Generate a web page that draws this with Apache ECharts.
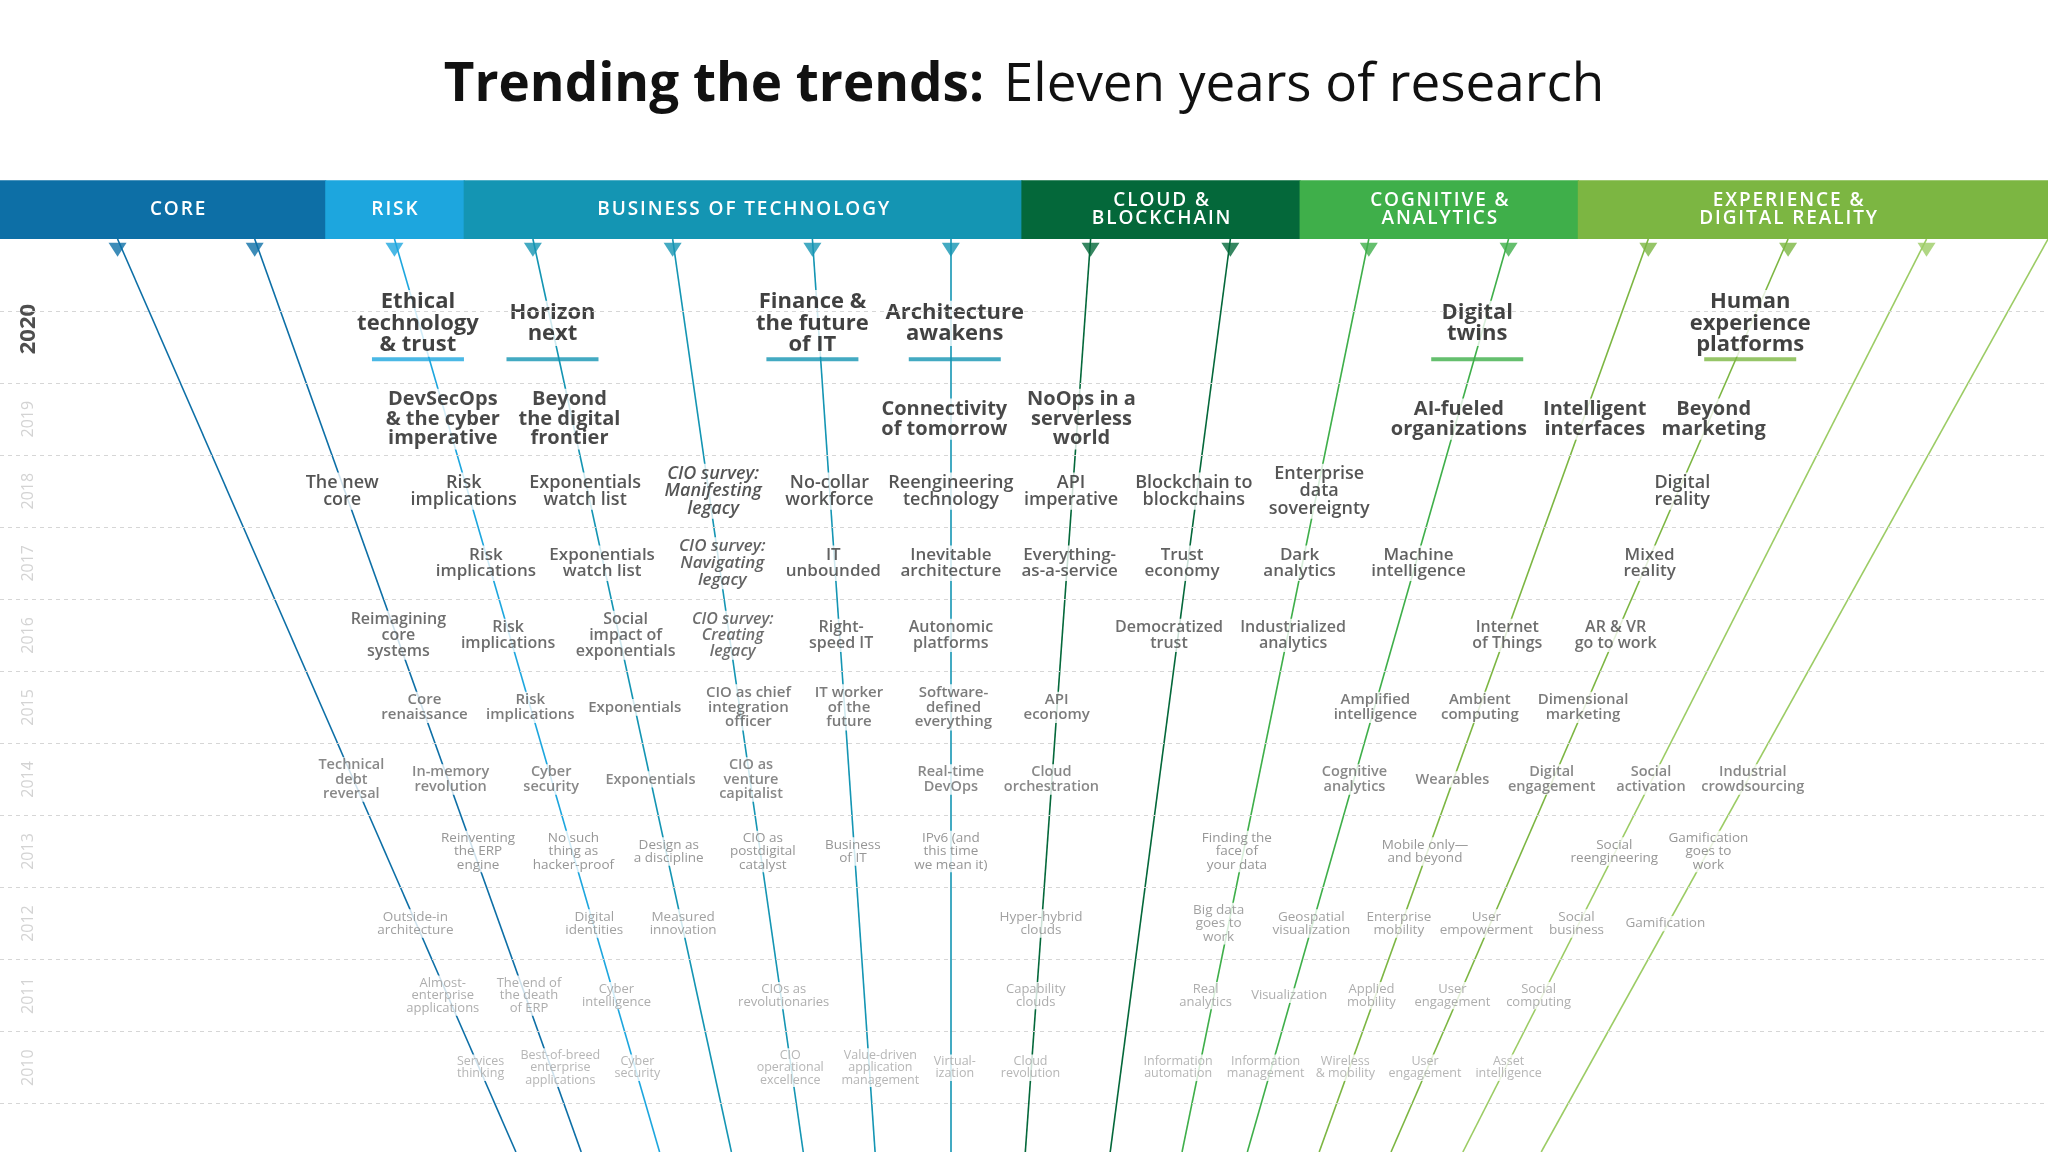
<!DOCTYPE html>
<html><head><meta charset="utf-8">
<script src="https://cdn.jsdelivr.net/npm/echarts@6/dist/echarts.min.js"></script>
<style>html,body{margin:0;padding:0;background:#fff}#chart{width:2048px;height:1152px}</style>
</head><body><div id="chart"></div>
<script>
var chart = echarts.init(document.getElementById('chart'));
var S = 2048 / 1568; // reference measured at 1568 wide

// banner groups: name, start x, end x, colour
var bandNames = ['CORE', 'RISK', 'BUSINESS OF TECHNOLOGY', 'CLOUD &\nBLOCKCHAIN', 'COGNITIVE &\nANALYTICS', 'EXPERIENCE &\nDIGITAL REALITY'];
var bandStart = [0, 249, 355, 782, 995, 1208];
var bandEnd = [249, 355, 782, 995, 1208, 1568];
var bandColor = ['#0d6fa6', '#1da6de', '#1495b3', '#04683a', '#3faf4a', '#7cb642'];
var bandTextX = [136, 302, 569, 889, 1102, 1369];

// stream lines: top x (banner), bottom x (page foot), colour
var lineTop = [90, 195, 302, 408, 515, 622, 728, 835, 942, 1048, 1155, 1262, 1369, 1475, 1568];
var lineBottom = [395, 445, 505, 560, 615, 670, 728, 785, 850, 905, 955, 1010, 1065, 1120, 1180];
var lineColor = ['#0d6fa6', '#0d6fa6', '#1da6de', '#1495b3', '#1495b3', '#1495b3', '#1495b3', '#04683a', '#04683a', '#3faf4a', '#3faf4a', '#7cb642', '#7cb642', '#9ccc65', '#9ccc65'];

var years = [2020, 2019, 2018, 2017, 2016, 2015, 2014, 2013, 2012, 2011, 2010];
var separators = [2009.5, 2010.5, 2011.5, 2012.5, 2013.5, 2014.5, 2015.5, 2016.5, 2017.5, 2018.5, 2019.5, 2020.5];

var trends = {
  2020: [['Ethical\ntechnology\n& trust', 320], ['Horizon\nnext', 423], ['Finance &\nthe future\nof IT', 622], ['Architecture\nawakens', 731], ['Digital\ntwins', 1131], ['Human\nexperience\nplatforms', 1340]],
  2019: [['DevSecOps\n& the cyber\nimperative', 339], ['Beyond\nthe digital\nfrontier', 436], ['Connectivity\nof tomorrow', 723], ['NoOps in a\nserverless\nworld', 828], ['AI-fueled\norganizations', 1117], ['Intelligent\ninterfaces', 1221], ['Beyond\nmarketing', 1312]],
  2018: [['The new\ncore', 262], ['Risk\nimplications', 355], ['Exponentials\nwatch list', 448], ['*CIO survey:\nManifesting\nlegacy', 546], ['No-collar\nworkforce', 635], ['Reengineering\ntechnology', 728], ['API\nimperative', 820], ['Blockchain to\nblockchains', 914], ['Enterprise\ndata\nsovereignty', 1010], ['Digital\nreality', 1288]],
  2017: [['Risk\nimplications', 372], ['Exponentials\nwatch list', 461], ['*CIO survey:\nNavigating\nlegacy', 553], ['IT\nunbounded', 638], ['Inevitable\narchitecture', 728], ['Everything-\nas-a-service', 819], ['Trust\neconomy', 905], ['Dark\nanalytics', 995], ['Machine\nintelligence', 1086], ['Mixed\nreality', 1263]],
  2016: [['Reimagining\ncore\nsystems', 305], ['Risk\nimplications', 389], ['Social\nimpact of\nexponentials', 479], ['*CIO survey:\nCreating\nlegacy', 561], ['Right-\nspeed IT', 644], ['Autonomic\nplatforms', 728], ['Democratized\ntrust', 895], ['Industrialized\nanalytics', 990], ['Internet\nof Things', 1154], ['AR & VR\ngo to work', 1237]],
  2015: [['Core\nrenaissance', 325], ['Risk\nimplications', 406], ['Exponentials', 486], ['CIO as chief\nintegration\nofficer', 573], ['IT worker\nof the\nfuture', 650], ['Software-\ndefined\neverything', 730], ['API\neconomy', 809], ['Amplified\nintelligence', 1053], ['Ambient\ncomputing', 1133], ['Dimensional\nmarketing', 1212]],
  2014: [['Technical\ndebt\nreversal', 269], ['In-memory\nrevolution', 345], ['Cyber\nsecurity', 422], ['Exponentials', 498], ['CIO as\nventure\ncapitalist', 575], ['Real-time\nDevOps', 728], ['Cloud\norchestration', 805], ['Cognitive\nanalytics', 1037], ['Wearables', 1112], ['Digital\nengagement', 1188], ['Social\nactivation', 1264], ['Industrial\ncrowdsourcing', 1342]],
  2013: [['Reinventing\nthe ERP\nengine', 366], ['No such\nthing as\nhacker-proof', 439], ['Design as\na discipline', 512], ['CIO as\npostdigital\ncatalyst', 584], ['Business\nof IT', 653], ['IPv6 (and\nthis time\nwe mean it)', 728], ['Finding the\nface of\nyour data', 947], ['Mobile only—\nand beyond', 1091], ['Social\nreengineering', 1236], ['Gamification\ngoes to\nwork', 1308]],
  2012: [['Outside-in\narchitecture', 318], ['Digital\nidentities', 455], ['Measured\ninnovation', 523], ['Hyper-hybrid\nclouds', 797], ['Big data\ngoes to\nwork', 933], ['Geospatial\nvisualization', 1004], ['Enterprise\nmobility', 1071], ['User\nempowerment', 1138], ['Social\nbusiness', 1207], ['Gamification', 1275]],
  2011: [['Almost-\nenterprise\napplications', 339], ['The end of\nthe death\nof ERP', 405], ['Cyber\nintelligence', 472], ['CIOs as\nrevolutionaries', 600], ['Capability\nclouds', 793], ['Real\nanalytics', 923], ['Visualization', 987], ['Applied\nmobility', 1050], ['User\nengagement', 1112], ['Social\ncomputing', 1178]],
  2010: [['Services\nthinking', 368], ['Best-of-breed\nenterprise\napplications', 429], ['Cyber\nsecurity', 488], ['CIO\noperational\nexcellence', 605], ['Value-driven\napplication\nmanagement', 674], ['Virtual-\nization', 731], ['Cloud\nrevolution', 789], ['Information\nautomation', 902], ['Information\nmanagement', 969], ['Wireless\n& mobility', 1030], ['User\nengagement', 1091], ['Asset\nintelligence', 1155]]
};
// 2020 underline colours, same order as 2020 trends
var underline2020 = ['#1da6de', '#1495b3', '#1495b3', '#1495b3', '#3faf4a', '#7cb642'];

var yearFont = {2020: 22, 2019: 20, 2018: 18, 2017: 17, 2016: 16, 2015: 15, 2014: 14.5, 2013: 13.5, 2012: 13.5, 2011: 13, 2010: 12.5};
var yearColor = {2020: '#111', 2019: '#1c1c1c', 2018: '#2b2b2b', 2017: '#3a3a3a', 2016: '#4a4a4a', 2015: '#5a5a5a', 2014: '#6a6a6a', 2013: '#7c7c7c', 2012: '#8a8a8a', 2011: '#999', 2010: '#a4a4a4'};
var yearWeight = {2020: 'bold', 2019: 'bold', 2018: 600, 2017: 600, 2016: 600, 2015: 600, 2014: 600, 2013: 'normal', 2012: 'normal', 2011: 'normal', 2010: 'normal'};

function rowY(y) { return y === 2020 ? 2020.33 : y; }
function spaced(s) { return s.split('\n').map(function (l) { return l.split('').join('\u200a'); }).join('\n'); }

var textData = [];
years.forEach(function (y) {
  trends[y].forEach(function (t) {
    var italic = t[0].charAt(0) === '*';
    var fs = yearFont[y];
    textData.push({
      value: [t[1], rowY(y)],
      name: italic ? t[0].slice(1) : t[0],
      label: {
        fontSize: fs, lineHeight: fs * 0.98,
        color: yearColor[y], fontWeight: yearWeight[y],
        fontStyle: italic ? 'italic' : 'normal'
      }
    });
  });
});

var underlineData = trends[2020].map(function (t, i) {
  return {value: [t[1], 2019.83], itemStyle: {color: underline2020[i]}};
});

var lineData = lineTop.map(function (x, i) {
  return {coords: [[x, 2021.5], [lineBottom[i], 2008.83]], lineStyle: {color: lineColor[i]}};
});

var triData = lineTop.slice(0, 14).map(function (x, i) {
  return {value: [x, 2021.35], itemStyle: {color: lineColor[i]}};
});

var yearLabelData = years.map(function (y) {
  return {
    value: [22, rowY(y) - (y === 2020 ? 0.08 : 0)], name: String(y),
    label: {color: y === 2020 ? '#222' : '#c8c8c8', fontWeight: y === 2020 ? 'bold' : 'normal', fontSize: y === 2020 ? 22 : 16}
  };
});

var graphics = bandNames.map(function (n, i) {
  return {
    type: 'group', left: bandStart[i] * S, top: 138 * S,
    children: [
      {type: 'rect', shape: {x: 0, y: 0, width: (bandEnd[i] - bandStart[i]) * S + 1, height: 45 * S}, style: {fill: bandColor[i]}},
      {type: 'text', x: (bandTextX[i] - bandStart[i]) * S, y: 22.5 * S,
       style: {text: spaced(n), fill: '#fff', font: '600 19px "Open Sans"', align: 'center', verticalAlign: 'middle', lineHeight: 18}}
    ]
  };
});

var option = {
  backgroundColor: '#fff',
  animation: false,
  title: {
    left: 'center', top: 54,
    text: '{b|Trending the trends:}{n| Eleven years of research}',
    textStyle: {rich: {
      b: {fontFamily: 'Open Sans', fontWeight: 'bold', fontSize: 53, color: '#111'},
      n: {fontFamily: 'Open Sans', fontWeight: 'normal', fontSize: 53, color: '#111', padding: [0, 0, 0, 6]}
    }}
  },
  graphic: graphics,
  grid: {left: 0, right: 0, top: 183 * S, bottom: 0},
  xAxis: {type: 'value', min: 0, max: 1568, show: false},
  yAxis: {type: 'value', min: 2008.83, max: 2021.5, show: false},
  series: [
    {
      type: 'lines', coordinateSystem: 'cartesian2d', polyline: false, silent: true,
      lineStyle: {width: 1.6, opacity: 1}, data: lineData,
      markLine: {
        silent: true, symbol: 'none', label: {show: false},
        lineStyle: {color: '#d6d6d6', type: [4, 4], width: 1},
        data: separators.map(function (v) { return {yAxis: v}; })
      }
    },
    {
      type: 'scatter', symbol: 'triangle', symbolRotate: 180, symbolSize: [18, 14],
      data: triData, silent: true
    },
    {
      type: 'scatter', symbolSize: 1, itemStyle: {color: 'rgba(0,0,0,0)'}, silent: true,
      label: {
        show: true, position: 'inside', formatter: '{b}', align: 'center', verticalAlign: 'middle',
        fontFamily: 'Open Sans', backgroundColor: '#fff', padding: [1, 3]
      },
      labelLayout: {hideOverlap: false},
      data: textData
    },
    {
      type: 'scatter', symbol: 'rect', symbolSize: [92, 4], data: underlineData, silent: true, z: 10
    },
    {
      type: 'scatter', symbolSize: 1, itemStyle: {color: 'rgba(0,0,0,0)'}, silent: true,
      label: {show: true, position: 'inside', formatter: '{b}', rotate: 90, fontFamily: 'Open Sans'},
      data: yearLabelData
    }
  ]
};
chart.setOption(option);
</script>
</body></html>
